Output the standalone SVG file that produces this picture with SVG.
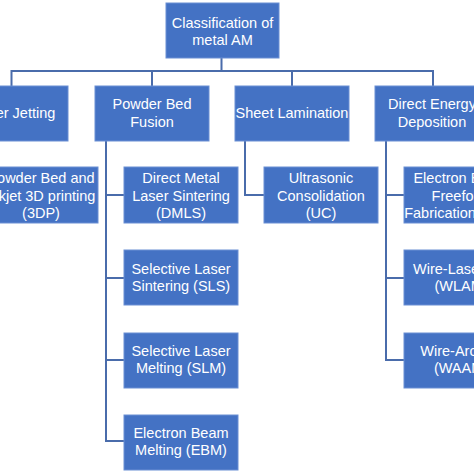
<svg xmlns="http://www.w3.org/2000/svg" width="474" height="474" viewBox="0 0 474 474">
<style>
.box{fill:#4472C4;stroke:#6a8fd4;stroke-width:1}
.t{fill:#ffffff;font-family:"Liberation Sans",Arial,sans-serif;font-size:14.5px;text-anchor:middle}
.c{fill:none;stroke:#4a6cab;stroke-width:2}
</style>
<rect width="474" height="474" fill="#ffffff"/>
<g id="connectors">
<path class="c" d="M221.5 58V71M11.5 71H433M11.5 70V86M152 71V86M292 71V86M433 70V86"/>
<path class="c" d="M106 141V441M106 195H124M106 278H124M106 360H124M105 441H124"/>
<path class="c" d="M245 141V195H264"/>
<path class="c" d="M386 141V360M386 195H404M386 278H404M385 360H404"/>
</g>
<g id="root"><rect class="box" x="166" y="3" width="113" height="55"/><text class="t"><tspan x="222.5" y="27.5">Classification of</tspan><tspan x="222.5" y="44.5">metal AM</tspan></text></g>
<g id="binder-jetting"><rect class="box" x="-46" y="86" width="114" height="55"/><text class="t" x="11" y="118">Binder Jetting</text></g>
<g id="powder-bed-fusion"><rect class="box" x="95" y="86" width="114" height="55"/><text class="t"><tspan x="152" y="109">Powder Bed</tspan><tspan x="152" y="126.5">Fusion</tspan></text></g>
<g id="sheet-lamination"><rect class="box" x="235" y="86" width="114" height="55"/><text class="t" x="292" y="118">Sheet Lamination</text></g>
<g id="ded"><rect class="box" x="375" y="86" width="114" height="55"/><text class="t"><tspan x="432" y="109">Direct Energy</tspan><tspan x="432" y="126.5">Deposition</tspan></text></g>
<g id="3dp"><rect class="box" x="-16" y="167" width="114" height="56"/><text class="t"><tspan x="41" y="183">Powder Bed and</tspan><tspan x="41" y="200.5">Inkjet 3D printing</tspan><tspan x="41" y="218">(3DP)</tspan></text></g>
<g id="dmls"><rect class="box" x="124" y="167" width="114" height="56"/><text class="t"><tspan x="181" y="183">Direct Metal</tspan><tspan x="181" y="200.5">Laser Sintering</tspan><tspan x="181" y="218">(DMLS)</tspan></text></g>
<g id="sls"><rect class="box" x="124" y="250" width="114" height="55"/><text class="t"><tspan x="181" y="274">Selective Laser</tspan><tspan x="181" y="291">Sintering (SLS)</tspan></text></g>
<g id="slm"><rect class="box" x="124" y="333" width="114" height="55"/><text class="t"><tspan x="181" y="356">Selective Laser</tspan><tspan x="181" y="373">Melting (SLM)</tspan></text></g>
<g id="ebm"><rect class="box" x="124" y="415" width="114" height="55"/><text class="t"><tspan x="181" y="438">Electron Beam</tspan><tspan x="181" y="455">Melting (EBM)</tspan></text></g>
<g id="uc"><rect class="box" x="264" y="167" width="114" height="56"/><text class="t"><tspan x="321" y="183">Ultrasonic</tspan><tspan x="321" y="200.5">Consolidation</tspan><tspan x="321" y="218">(UC)</tspan></text></g>
<g id="ebf"><rect class="box" x="404" y="167" width="114" height="56"/><text class="t"><tspan x="461" y="183">Electron Beam</tspan><tspan x="461" y="200.5">Freeform</tspan><tspan x="461" y="218">Fabrication (EBF)</tspan></text></g>
<g id="wlam"><rect class="box" x="404" y="250" width="114" height="55"/><text class="t"><tspan x="461" y="274">Wire-Laser AM</tspan><tspan x="461" y="291">(WLAM)</tspan></text></g>
<g id="waam"><rect class="box" x="404" y="333" width="114" height="55"/><text class="t"><tspan x="461" y="356">Wire-Arc AM</tspan><tspan x="461" y="373">(WAAM)</tspan></text></g>
</svg>
